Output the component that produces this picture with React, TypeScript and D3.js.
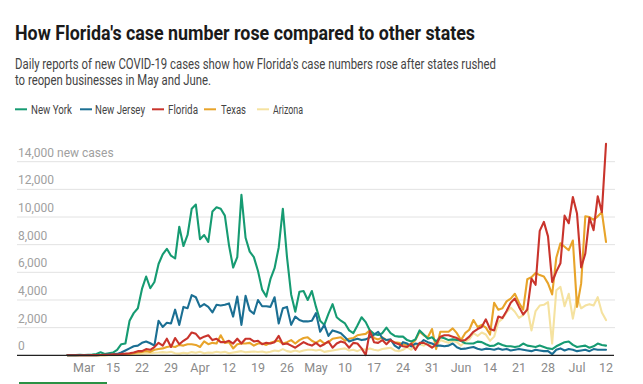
import React from "react";
import * as d3 from "d3";

// ---- data (daily new cases, starting Mar 4, 2020, ending Jul 12, 2020) ----
const startDay = "2020-03-04";

const newYork = [0,10,10,30,20,40,50,100,220,100,150,200,400,800,850,2500,3050,3400,4800,5700,4850,5300,6600,7300,7700,7200,7000,9300,7900,8700,10600,10900,8400,8700,8200,10400,10700,10600,10100,7950,6350,7100,11600,8500,7500,7100,6100,4750,4250,5500,6300,7800,10600,7100,4400,3150,4600,4650,4000,4650,3500,2500,2200,3000,3700,2750,2500,2300,1800,1600,2150,2750,2400,1800,1550,1470,1600,2000,1600,1400,1350,1350,1100,1000,1150,1800,1500,1200,1300,1000,1300,1230,1100,1150,1100,1050,870,850,850,990,950,800,670,700,870,750,650,650,600,650,850,700,650,600,700,600,500,450,650,800,950,1000,750,600,650,700,550,650,850,750,700];

const newJersey = [0,0,0,0,5,5,10,15,20,30,50,70,100,200,350,500,650,700,900,1000,870,700,2500,2050,2350,2300,3300,2200,3500,3400,4350,4200,3500,3700,3500,3100,3650,3600,3650,3750,2800,4250,2200,4300,3250,3000,4000,3550,3550,3500,4200,2300,3400,3500,2200,2800,2550,2450,2450,2500,3050,1700,2200,1400,1800,1700,1600,1300,1000,1100,1200,1100,1150,1300,1500,1700,1250,1100,1150,700,500,950,850,650,850,800,1100,950,850,700,700,650,700,850,580,450,480,550,600,480,400,480,450,400,500,400,450,350,400,450,400,350,300,400,350,300,300,80,400,500,350,450,400,300,350,400,300,450,400,400,400];

const florida = [0,2,5,3,7,4,15,10,20,30,40,70,60,100,120,150,200,300,300,450,400,600,900,700,1200,600,1250,800,1050,1250,1650,1550,1200,1350,1450,1100,1200,950,950,1050,850,1200,850,1200,1200,1000,1050,800,900,850,950,1400,800,850,700,550,750,950,800,700,900,650,800,1000,550,850,1000,900,550,900,850,500,20,1750,950,900,1100,800,1100,900,800,650,600,850,400,900,900,750,550,800,1350,1450,1450,1350,1250,1050,1100,1350,1700,1900,2050,2600,1900,1800,2800,2700,3200,3800,4100,3500,2950,3300,5550,5100,9000,9650,8600,5300,6050,6650,10100,9550,11450,10250,6350,7350,9950,9050,11500,10350,15300];

const texas = [0,0,0,0,0,2,3,5,8,10,20,30,40,60,80,100,150,200,250,300,250,400,450,500,600,650,600,750,700,800,800,750,600,1000,800,900,850,1450,900,950,500,800,850,850,900,700,850,850,750,900,1000,1050,850,950,1100,850,1100,1250,1300,1050,900,1100,850,950,1200,1250,1300,1050,1200,1250,1450,1500,1550,1800,1250,1150,1300,1100,1050,950,900,800,750,800,1100,1700,1450,1300,1900,450,1700,1700,1700,1950,1600,1100,1600,1850,2550,2050,2200,2000,1500,3800,3300,3400,3900,4100,4450,3800,3300,5500,5650,5950,5800,5700,5200,4400,7050,8100,7850,7600,8300,3500,5200,10050,10000,9800,10050,10350,8200];

const arizona = [0,0,0,0,0,0,0,0,0,0,5,10,15,20,30,40,60,80,100,130,150,180,200,230,200,250,150,120,180,140,230,180,250,150,200,180,260,200,250,150,200,250,300,220,250,280,240,280,200,260,350,300,450,300,250,350,250,350,400,400,350,400,250,300,350,400,450,500,350,400,300,450,400,500,400,350,450,500,550,350,300,400,600,400,700,800,700,900,600,650,1100,1000,900,1050,950,700,1000,1150,1600,1400,1650,1500,1050,1350,2400,2650,3100,3450,3150,2700,2900,3400,1800,3200,3600,3650,3850,850,4700,4950,3550,4450,2650,4200,3400,3600,3700,3600,4200,3100,2550];

const seriesNames = ["New York", "New Jersey", "Florida", "Texas", "Arizona"];
const seriesColors = ["#169b72", "#1b6f93", "#c9342c", "#e8a42a", "#f5e2a0"];
const seriesValues = [newYork, newJersey, florida, texas, arizona];

const yTicks = [0, 2000, 4000, 6000, 8000, 10000, 12000, 14000];
const xTickDates = ["2020-03-08","2020-03-15","2020-03-22","2020-03-29","2020-04-05","2020-04-12","2020-04-19","2020-04-26","2020-05-03","2020-05-10","2020-05-17","2020-05-24","2020-05-31","2020-06-07","2020-06-14","2020-06-21","2020-06-28","2020-07-05","2020-07-12"];
const xTickLabels = ["Mar","15","22","29","Apr","12","19","26","May","10","17","24","31","Jun","14","21","28","Jul","12"];

const parse = d3.timeParse("%Y-%m-%d");

export default function App() {
  const W = 643, H = 384;
  const start = parse(startDay) as Date;
  const x = d3.scaleTime()
    .domain([parse("2020-02-21") as Date, parse("2020-07-14") as Date])
    .range([17.7, 614.3]);
  const y = d3.scaleLinear().domain([0, 14000]).range([355.3, 161.7]);
  const line = d3.line<number>()
    .x((_, i) => x(d3.timeDay.offset(start, i)))
    .y((v) => y(v))
    .curve(d3.curveLinear);

  const drawOrder = [4, 3, 0, 1, 2];
  const legendPos = [
    { sx: 15, tx: 31, tw: 41 },
    { sx: 80, tx: 95, tw: 50 },
    { sx: 152, tx: 168, tw: 30 },
    { sx: 204, tx: 221, tw: 25 },
    { sx: 257, tx: 273, tw: 30 },
  ];
  const font = "Roboto, 'Noto Sans', sans-serif";

  return (
    <svg width={W} height={H} style={{ position: "absolute", left: 0, top: 0, background: "#fff" }} fontFamily={font}>
      <rect x={0} y={0} width={W} height={H} fill="#fff" />
      <text x={15} y={39.5} fontSize={20} fontWeight={700} fill="#1a1a1a" textLength={460} lengthAdjust="spacingAndGlyphs">How Florida's case number rose compared to other states</text>
      <text x={15} y={68.5} fontSize={14} fill="#444" textLength={481} lengthAdjust="spacingAndGlyphs">Daily reports of new COVID-19 cases show how Florida's case numbers rose after states rushed</text>
      <text x={15} y={85} fontSize={14} fill="#444" textLength={196} lengthAdjust="spacingAndGlyphs">to reopen businesses in May and June.</text>

      {seriesNames.map((n, i) => (
        <g key={n}>
          <line x1={legendPos[i].sx} x2={legendPos[i].sx + 12} y1={109.3} y2={109.3} stroke={seriesColors[i]} strokeWidth={2} />
          <text x={legendPos[i].tx} y={113.5} fontSize={12} fill="#444" textLength={legendPos[i].tw} lengthAdjust="spacingAndGlyphs">{n}</text>
        </g>
      ))}

      {yTicks.map((t) => (
        <g key={t}>
          {t > 0 && <line x1={17} x2={615} y1={y(t)} y2={y(t)} stroke="#e2e2e2" strokeWidth={1} />}
          <text x={18} y={y(t) - 5} fontSize={12} fill="#a0a0a0">{d3.format(",")(t) + (t === 14000 ? " new cases" : "")}</text>
        </g>
      ))}

      {drawOrder.map((i) => (
        <path key={seriesNames[i]} d={line(seriesValues[i]) || ""} fill="none" stroke={seriesColors[i]} strokeWidth={2.1} strokeLinejoin="round" strokeLinecap="round" />
      ))}

      <line x1={17} x2={614} y1={y(0)} y2={y(0)} stroke="#222" strokeWidth={1.3} />

      {xTickDates.map((d, i) => (
        <text key={d} x={x(parse(d) as Date)} y={371.5} fontSize={12.5} fill="#8a8a8a" textAnchor="middle">{xTickLabels[i]}</text>
      ))}

      <rect x={19} y={382} width={88} height={2} fill="#2a9245" />
    </svg>
  );
}
